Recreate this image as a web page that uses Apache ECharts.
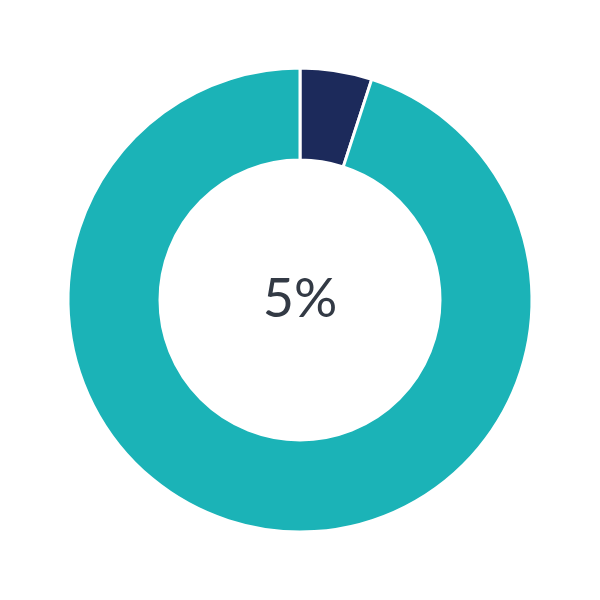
<!DOCTYPE html>
<html>
<head>
<meta charset="utf-8">
<script src="https://cdn.jsdelivr.net/npm/echarts@6/dist/echarts.min.js"></script>
<style>html,body{margin:0;padding:0;background:#fff}#c{width:600px;height:600px}</style>
</head>
<body>
<div id="c"></div>
<script>
const categories = ['Share', 'Remainder'];
const values = [5, 95];
const colors = ['#1c2a5b', '#1bb3b7'];
const centerLabel = '5%';

const chart = echarts.init(document.getElementById('c'));
chart.setOption({
  animation: false,
  title: {
    text: centerLabel,
    left: 'center',
    top: 'middle',
    textStyle: { fontFamily: 'Lato', fontWeight: 'normal', fontSize: 54, color: '#333a45' }
  },
  series: [{
    type: 'pie',
    center: ['50%', '50%'],
    radius: [140, 232],
    startAngle: 90,
    clockwise: true,
    label: { show: false },
    labelLine: { show: false },
    silent: true,
    itemStyle: { borderColor: '#fff', borderWidth: 3 },
    data: categories.map((n, i) => ({ name: n, value: values[i], itemStyle: { color: colors[i] } }))
  }]
});
</script>
</body>
</html>
